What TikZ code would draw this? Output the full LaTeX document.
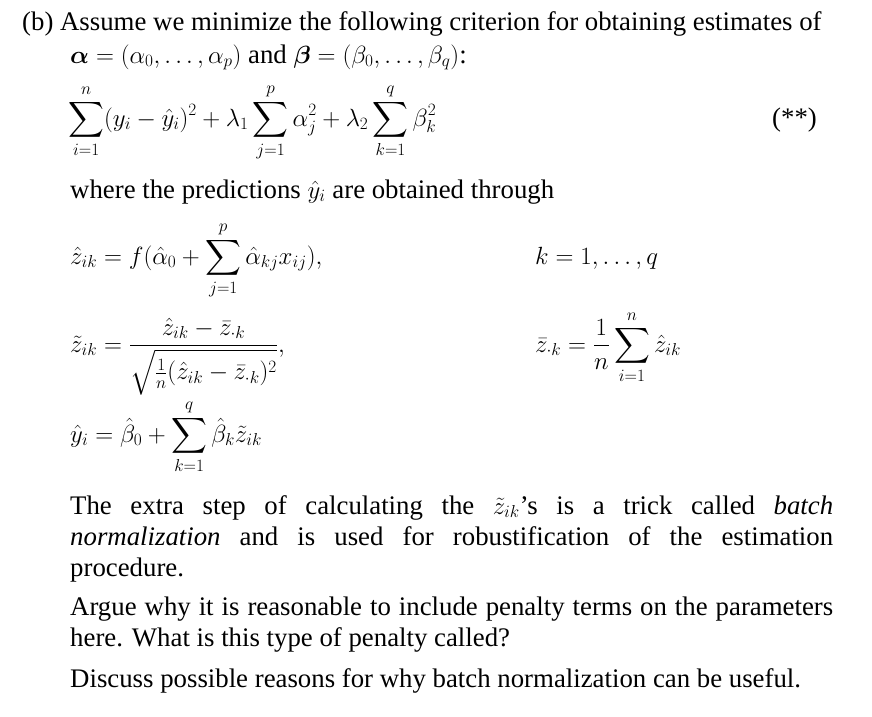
\documentclass[tikz,border=0pt]{standalone}
\usepackage{amsmath}
\usepackage{fontspec}
\setmainfont{Liberation Serif}
\tikzset{txt/.style={anchor=base west,inner sep=0pt},
 mth/.style={anchor=base west,inner sep=0pt,font=\fontsize{26}{30}\selectfont},
 par/.style={anchor=north west,inner sep=0pt,text width=763pt,align=justify}}
\begin{document}
\begin{tikzpicture}[x=1pt,y=-1pt]
\useasboundingbox (0,0) rectangle (872,716);
\fontsize{26.8}{31}\selectfont
\node[txt] (l1) at (22,30) {(b) Assume we minimize the following criterion for obtaining estimates of};
\node[txt] (l2) at (70,63) {$\boldsymbol{\alpha}=(\alpha_0,\ldots,\alpha_p)$ and $\boldsymbol{\beta}=(\beta_0,\ldots,\beta_q)$:};
\node[mth] (eq1) at (68,126) {$\displaystyle\sum_{i=1}^n(y_i-\hat y_i)^2+\lambda_1\sum_{j=1}^p\alpha_j^2+\lambda_2\sum_{k=1}^q\beta_k^2$};
\node[txt] (ss) at (772,126) {(**)};
\node[txt] (l3) at (70,198) {where the predictions $\hat y_i$ are obtained through};
\node[mth] (z1) at (70,264) {$\displaystyle \hat z_{ik} = f(\hat\alpha_0+\sum_{j=1}^p\hat\alpha_{kj}x_{ij}),$};
\node[mth] (k1) at (535,264) {$k=1,\ldots,q$};
\node[mth] (z2) at (70,352) {$\displaystyle \tilde z_{ik} =\frac{\hat z_{ik}-\bar z_{\cdot k}}{\sqrt{\frac1n(\hat z_{ik}-\bar z_{\cdot k})^2}},$};
\node[mth] (zb) at (535,352) {$\displaystyle \bar z_{\cdot k} =\frac1n\sum_{i=1}^n\hat z_{ik}$};
\node[mth] (y1) at (70,442) {$\displaystyle \hat y_i = \hat\beta_0+\sum_{k=1}^q\hat\beta_k\tilde z_{ik}$};
\node[par] (p1) at (70,495) {The extra step of calculating the $\tilde z_{ik}$'s is a trick called \emph{batch}\linebreak \emph{normalization} and is used for robustification of the estimation\linebreak procedure.};
\node[par] (p2) at (70,597) {Argue why it is reasonable to include penalty terms on the parameters\linebreak here. What is this type of penalty called?};
\node[par] (p3) at (70,668) {Discuss possible reasons for why batch normalization can be useful.};
\end{tikzpicture}
\end{document}
